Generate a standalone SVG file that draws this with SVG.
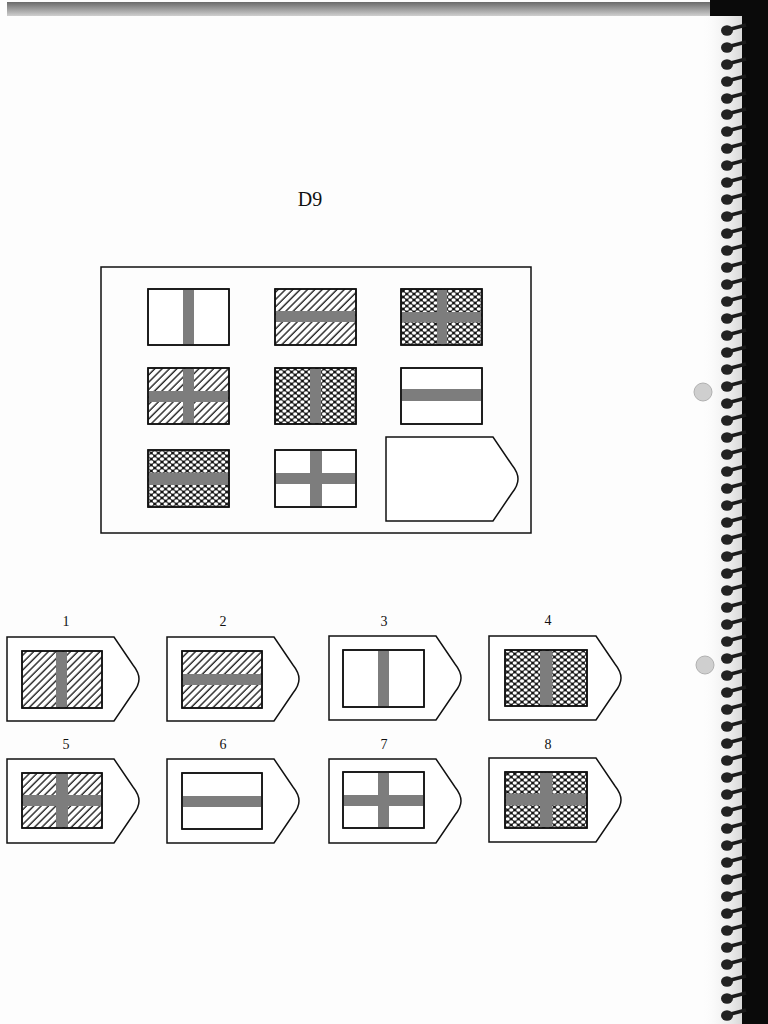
<svg xmlns="http://www.w3.org/2000/svg" xmlns:xlink="http://www.w3.org/1999/xlink" width="768" height="1024" viewBox="0 0 768 1024">
<style>
.cell{stroke:#111;stroke-width:1.5}
.bar{fill:#7d7d7d}
.frame{fill:none;stroke:#111;stroke-width:1.5}
.tab{fill:#fff;stroke:#111;stroke-width:1.5}
.num{font-family:"Liberation Serif",serif;font-size:14px;fill:#111;text-anchor:middle}
.title{font-family:"Liberation Serif",serif;font-size:20px;fill:#111;text-anchor:middle}
</style>
<defs>
<pattern id="hatch" patternUnits="userSpaceOnUse" width="5.2" height="5.2" patternTransform="rotate(45)">
<rect width="5.2" height="5.2" fill="#fff"/>
<line x1="1" y1="0" x2="1" y2="5.2" stroke="#111" stroke-width="1.3"/>
</pattern>
<pattern id="cross" patternUnits="userSpaceOnUse" width="7.2" height="6">
<rect width="7.2" height="6" fill="#111"/>
<ellipse cx="0" cy="0" rx="2.2" ry="1.8" fill="#fff"/>
<ellipse cx="7.2" cy="0" rx="2.2" ry="1.8" fill="#fff"/>
<ellipse cx="0" cy="6" rx="2.2" ry="1.8" fill="#fff"/>
<ellipse cx="7.2" cy="6" rx="2.2" ry="1.8" fill="#fff"/>
<ellipse cx="3.6" cy="3" rx="2.2" ry="1.8" fill="#fff"/>
</pattern>
<linearGradient id="topband" x1="0" y1="0" x2="0" y2="1">
<stop offset="0" stop-color="#6a6a6a"/>
<stop offset="1" stop-color="#cfcfcf"/>
</linearGradient>
<linearGradient id="shade" x1="0" y1="0" x2="1" y2="0">
<stop offset="0" stop-color="#fff" stop-opacity="0"/>
<stop offset="1" stop-color="#d8d8d8"/>
</linearGradient>
<g id="coil">
<path d="M727,0 L746,-5" stroke="#1a1a1a" stroke-width="3.4" fill="none"/>
<ellipse cx="727" cy="0.5" rx="6" ry="5.2" fill="#222"/>
</g>
<path id="tabshape" d="M0,0 H107 L126,28 C134,38 134,46 126,56 L107,84 H0 Z"/>
</defs>

<rect width="768" height="1024" fill="#fdfdfd"/>
<rect x="700" y="0" width="42" height="1024" fill="url(#shade)"/>
<rect x="7" y="2" width="710" height="14" fill="url(#topband)"/>
<rect x="710" y="0" width="58" height="16" fill="#0a0a0a"/>
<rect x="742" y="0" width="26" height="1024" fill="#0a0a0a"/>

<g id="spiral">
<use xlink:href="#coil" y="30"/><use xlink:href="#coil" y="47"/><use xlink:href="#coil" y="64"/><use xlink:href="#coil" y="81"/>
<use xlink:href="#coil" y="98"/><use xlink:href="#coil" y="114"/><use xlink:href="#coil" y="131"/><use xlink:href="#coil" y="148"/>
<use xlink:href="#coil" y="165"/><use xlink:href="#coil" y="182"/><use xlink:href="#coil" y="199"/><use xlink:href="#coil" y="216"/>
<use xlink:href="#coil" y="233"/><use xlink:href="#coil" y="250"/><use xlink:href="#coil" y="267"/><use xlink:href="#coil" y="284"/>
<use xlink:href="#coil" y="301"/><use xlink:href="#coil" y="318"/><use xlink:href="#coil" y="335"/><use xlink:href="#coil" y="352"/>
<use xlink:href="#coil" y="369"/><use xlink:href="#coil" y="386"/><use xlink:href="#coil" y="403"/><use xlink:href="#coil" y="420"/>
<use xlink:href="#coil" y="437"/><use xlink:href="#coil" y="454"/><use xlink:href="#coil" y="471"/><use xlink:href="#coil" y="488"/>
<use xlink:href="#coil" y="505"/><use xlink:href="#coil" y="522"/><use xlink:href="#coil" y="539"/><use xlink:href="#coil" y="556"/>
<use xlink:href="#coil" y="573"/><use xlink:href="#coil" y="590"/><use xlink:href="#coil" y="607"/><use xlink:href="#coil" y="624"/>
<use xlink:href="#coil" y="641"/><use xlink:href="#coil" y="658"/><use xlink:href="#coil" y="675"/><use xlink:href="#coil" y="692"/>
<use xlink:href="#coil" y="709"/><use xlink:href="#coil" y="726"/><use xlink:href="#coil" y="743"/><use xlink:href="#coil" y="760"/>
<use xlink:href="#coil" y="777"/><use xlink:href="#coil" y="794"/><use xlink:href="#coil" y="811"/><use xlink:href="#coil" y="828"/>
<use xlink:href="#coil" y="845"/><use xlink:href="#coil" y="862"/><use xlink:href="#coil" y="879"/><use xlink:href="#coil" y="896"/>
<use xlink:href="#coil" y="913"/><use xlink:href="#coil" y="930"/><use xlink:href="#coil" y="947"/><use xlink:href="#coil" y="964"/>
<use xlink:href="#coil" y="981"/><use xlink:href="#coil" y="998"/><use xlink:href="#coil" y="1015"/>
</g>
<circle cx="703" cy="392" r="9" fill="#cfcfcf" stroke="#b0b0b0" stroke-width="1"/>
<circle cx="705" cy="665" r="9" fill="#cfcfcf" stroke="#b0b0b0" stroke-width="1"/>

<text class="title" x="310" y="206">D9</text>

<g id="matrix">
<rect class="frame" x="101" y="267" width="430" height="266"/>
<g id="m11"><rect class="cell" x="148" y="289" width="81" height="56" fill="#fff"/><rect class="bar" x="183" y="290" width="11" height="54"/><rect class="frame" x="148" y="289" width="81" height="56"/></g>
<g id="m12"><rect class="cell" x="275" y="289" width="81" height="56" fill="url(#hatch)"/><rect class="bar" x="276" y="311" width="79" height="11"/><rect class="frame" x="275" y="289" width="81" height="56"/></g>
<g id="m13"><rect class="cell" x="401" y="289" width="81" height="56" fill="url(#cross)"/><rect class="bar" x="437" y="290" width="10" height="54"/><rect class="bar" x="402" y="312" width="79" height="10"/><rect class="frame" x="401" y="289" width="81" height="56"/></g>
<g id="m21"><rect class="cell" x="148" y="368" width="81" height="56" fill="url(#hatch)"/><rect class="bar" x="183" y="369" width="11" height="54"/><rect class="bar" x="149" y="391" width="79" height="11"/><rect class="frame" x="148" y="368" width="81" height="56"/></g>
<g id="m22"><rect class="cell" x="275" y="368" width="81" height="56" fill="url(#cross)"/><rect class="bar" x="310" y="369" width="11" height="54"/><rect class="frame" x="275" y="368" width="81" height="56"/></g>
<g id="m23"><rect class="cell" x="401" y="368" width="81" height="56" fill="#fff"/><rect class="bar" x="402" y="389" width="79" height="12"/><rect class="frame" x="401" y="368" width="81" height="56"/></g>
<g id="m31"><rect class="cell" x="148" y="450" width="81" height="57" fill="url(#cross)"/><rect class="bar" x="149" y="473" width="79" height="12"/><rect class="frame" x="148" y="450" width="81" height="57"/></g>
<g id="m32"><rect class="cell" x="275" y="450" width="81" height="57" fill="#fff"/><rect class="bar" x="310" y="451" width="12" height="55"/><rect class="bar" x="276" y="473" width="79" height="11"/><rect class="frame" x="275" y="450" width="81" height="57"/></g>
<g id="m33"><use xlink:href="#tabshape" class="tab" x="386" y="437"/></g>
</g>

<g id="options">
<g id="opt1"><text class="num" x="66" y="626">1</text><use xlink:href="#tabshape" class="tab" x="7" y="637"/>
<rect class="cell" x="22" y="651" width="80" height="57" fill="url(#hatch)"/><rect class="bar" x="56" y="652" width="11" height="55"/><rect class="frame" x="22" y="651" width="80" height="57"/></g>
<g id="opt2"><text class="num" x="223" y="626">2</text><use xlink:href="#tabshape" class="tab" x="167" y="637"/>
<rect class="cell" x="182" y="651" width="80" height="57" fill="url(#hatch)"/><rect class="bar" x="183" y="674" width="78" height="11"/><rect class="frame" x="182" y="651" width="80" height="57"/></g>
<g id="opt3"><text class="num" x="384" y="626">3</text><use xlink:href="#tabshape" class="tab" x="329" y="636"/>
<rect class="cell" x="343" y="650" width="81" height="57" fill="#fff"/><rect class="bar" x="378" y="651" width="11" height="55"/><rect class="frame" x="343" y="650" width="81" height="57"/></g>
<g id="opt4"><text class="num" x="548" y="625">4</text><use xlink:href="#tabshape" class="tab" x="489" y="636"/>
<rect class="cell" x="505" y="650" width="82" height="56" fill="url(#cross)"/><rect class="bar" x="540" y="651" width="12" height="54"/><rect class="frame" x="505" y="650" width="82" height="56"/></g>
<g id="opt5"><text class="num" x="66" y="749">5</text><use xlink:href="#tabshape" class="tab" x="7" y="759"/>
<rect class="cell" x="22" y="773" width="80" height="55" fill="url(#hatch)"/><rect class="bar" x="56" y="774" width="12" height="53"/><rect class="bar" x="23" y="795" width="78" height="11"/><rect class="frame" x="22" y="773" width="80" height="55"/></g>
<g id="opt6"><text class="num" x="223" y="749">6</text><use xlink:href="#tabshape" class="tab" x="167" y="759"/>
<rect class="cell" x="182" y="773" width="80" height="56" fill="#fff"/><rect class="bar" x="183" y="796" width="78" height="11"/><rect class="frame" x="182" y="773" width="80" height="56"/></g>
<g id="opt7"><text class="num" x="384" y="749">7</text><use xlink:href="#tabshape" class="tab" x="329" y="759"/>
<rect class="cell" x="343" y="772" width="81" height="56" fill="#fff"/><rect class="bar" x="378" y="773" width="11" height="54"/><rect class="bar" x="344" y="795" width="79" height="11"/><rect class="frame" x="343" y="772" width="81" height="56"/></g>
<g id="opt8"><text class="num" x="548" y="749">8</text><use xlink:href="#tabshape" class="tab" x="489" y="758"/>
<rect class="cell" x="505" y="772" width="82" height="56" fill="url(#cross)"/><rect class="bar" x="540" y="773" width="12" height="54"/><rect class="bar" x="506" y="794" width="80" height="11"/><rect class="frame" x="505" y="772" width="82" height="56"/></g>
</g>
</svg>
